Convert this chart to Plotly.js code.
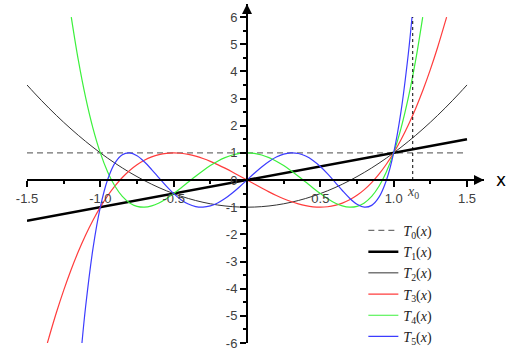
<!DOCTYPE html>
<html>
<head>
<meta charset="utf-8">
<script src="https://cdn.plot.ly/plotly-3.0.1.min.js"></script>
<style>html,body{margin:0;padding:0;background:#fff;}#chart{width:521px;height:362px;}</style>
</head>
<body>
<div id="chart"></div>
<script>
// Chebyshev polynomials T0..T5
const t0X = [-1.5, 1.5];
const t0Y = [1, 1];
const t1X = [-1.5, 1.5];
const t1Y = [-1.5, 1.5];
const t2X = [-1.5,-1.45,-1.4,-1.35,-1.3,-1.25,-1.2,-1.15,-1.1,-1.05,-1,-0.95,-0.9,-0.85,-0.8,-0.75,-0.7,-0.65,-0.6,-0.55,-0.5,-0.45,-0.4,-0.35,-0.3,-0.25,-0.2,-0.15,-0.1,-0.05,0,0.05,0.1,0.15,0.2,0.25,0.3,0.35,0.4,0.45,0.5,0.55,0.6,0.65,0.7,0.75,0.8,0.85,0.9,0.95,1,1.05,1.1,1.15,1.2,1.25,1.3,1.35,1.4,1.45,1.5];
const t2Y = [3.5,3.205,2.92,2.645,2.38,2.125,1.88,1.645,1.42,1.205,1,0.805,0.62,0.445,0.28,0.125,-0.02,-0.155,-0.28,-0.395,-0.5,-0.595,-0.68,-0.755,-0.82,-0.875,-0.92,-0.955,-0.98,-0.995,-1,-0.995,-0.98,-0.955,-0.92,-0.875,-0.82,-0.755,-0.68,-0.595,-0.5,-0.395,-0.28,-0.155,-0.02,0.125,0.28,0.445,0.62,0.805,1,1.205,1.42,1.645,1.88,2.125,2.38,2.645,2.92,3.205,3.5];
const t3X = [-1.361,-1.35,-1.3,-1.25,-1.2,-1.15,-1.1,-1.05,-1,-0.95,-0.9,-0.85,-0.8,-0.75,-0.7,-0.65,-0.6,-0.55,-0.5,-0.45,-0.4,-0.35,-0.3,-0.25,-0.2,-0.15,-0.1,-0.05,0,0.05,0.1,0.15,0.2,0.25,0.3,0.35,0.4,0.45,0.5,0.55,0.6,0.65,0.7,0.75,0.8,0.85,0.9,0.95,1,1.05,1.1,1.15,1.2,1.25,1.3,1.35,1.361];
const t3Y = [-6,-5.7915,-4.888,-4.0625,-3.312,-2.6335,-2.024,-1.4805,-1,-0.5795,-0.216,0.0935,0.352,0.5625,0.728,0.8515,0.936,0.9845,1,0.9855,0.944,0.8785,0.792,0.6875,0.568,0.4365,0.296,0.1495,0,-0.1495,-0.296,-0.4365,-0.568,-0.6875,-0.792,-0.8785,-0.944,-0.9855,-1,-0.9845,-0.936,-0.8515,-0.728,-0.5625,-0.352,-0.0935,0.216,0.5795,1,1.4805,2.024,2.6335,3.312,4.0625,4.888,5.7915,6];
const t4X = [-1.1981,-1.15,-1.1,-1.05,-1,-0.95,-0.9,-0.85,-0.8,-0.75,-0.7,-0.65,-0.6,-0.55,-0.5,-0.45,-0.4,-0.35,-0.3,-0.25,-0.2,-0.15,-0.1,-0.05,0,0.05,0.1,0.15,0.2,0.25,0.3,0.35,0.4,0.45,0.5,0.55,0.6,0.65,0.7,0.75,0.8,0.85,0.9,0.95,1,1.05,1.1,1.15,1.1981];
const t4Y = [6,4.41205,3.0328,1.90405,1,0.29605,-0.2312,-0.60395,-0.8432,-0.96875,-0.9992,-0.95195,-0.8432,-0.68795,-0.5,-0.29195,-0.0752,0.14005,0.3448,0.53125,0.6928,0.82405,0.9208,0.98005,1,0.98005,0.9208,0.82405,0.6928,0.53125,0.3448,0.14005,-0.0752,-0.29195,-0.5,-0.68795,-0.8432,-0.95195,-0.9992,-0.96875,-0.8432,-0.60395,-0.2312,0.29605,1,1.90405,3.0328,4.41205,6];
const t5X = [-1.1253,-1.1,-1.05,-1,-0.95,-0.9,-0.85,-0.8,-0.75,-0.7,-0.65,-0.6,-0.55,-0.5,-0.45,-0.4,-0.35,-0.3,-0.25,-0.2,-0.15,-0.1,-0.05,0,0.05,0.1,0.15,0.2,0.25,0.3,0.35,0.4,0.45,0.5,0.55,0.6,0.65,0.7,0.75,0.8,0.85,0.9,0.95,1,1.05,1.1,1.1253];
const t5Y = [-6,-4.64816,-2.518,-1,0.017005,0.63216,0.933215,0.99712,0.890625,0.67088,0.386035,0.07584,-0.227755,-0.5,-0.722745,-0.88384,-0.976535,-0.99888,-0.953125,-0.84512,-0.683715,-0.48016,-0.2475,0,0.2475,0.48016,0.683715,0.84512,0.953125,0.99888,0.976535,0.88384,0.722745,0.5,0.227755,-0.07584,-0.386035,-0.67088,-0.890625,-0.99712,-0.933215,-0.63216,-0.017005,1,2.518,4.64816,6];
const x0 = 1.13;
const x0Top = 6;
const seriesNames = ['<i>T</i><sub>0</sub>(<i>x</i>)','<i>T</i><sub>1</sub>(<i>x</i>)','<i>T</i><sub>2</sub>(<i>x</i>)','<i>T</i><sub>3</sub>(<i>x</i>)','<i>T</i><sub>4</sub>(<i>x</i>)','<i>T</i><sub>5</sub>(<i>x</i>)'];
const xTickVals = [-1.5,-1,-0.5,0.5,1,1.5];
const xTickText = ['-1.5','-1.0','-0.5','0.5','1.0','1.5'];
const xMinorVals = [-1.25,-0.75,-0.25,0.25,0.75,1.25];
const yTickVals = [-6,-5,-4,-3,-2,-1,0,1,2,3,4,5,6];
const yTickText = ['-6','-5','-4','-3','-2','-1','0','1','2','3','4','5','6'];
const yMinorVals = [-5.5,-4.5,-3.5,-2.5,-1.5,-0.5,0.5,1.5,2.5,3.5,4.5,5.5];

const xr = [-1.5, 1.616];
const yr = [-6, 6.48];
const tickFont = {family: 'Liberation Sans, Arial, sans-serif', size: 13, color: '#404040'};

const traces = [
  {x: t0X, y: t0Y, name: seriesNames[0], mode: 'lines', line: {color: '#707070', width: 1.2, dash: '6px,4px'}},
  {x: t1X, y: t1Y, name: seriesNames[1], mode: 'lines', line: {color: '#000000', width: 2.5}},
  {x: t2X, y: t2Y, name: seriesNames[2], mode: 'lines', line: {color: '#333333', width: 1, shape: 'spline'}},
  {x: t3X, y: t3Y, name: seriesNames[3], mode: 'lines', line: {color: '#ff3c3c', width: 1.2, shape: 'spline'}},
  {x: t4X, y: t4Y, name: seriesNames[4], mode: 'lines', line: {color: '#3cf03c', width: 1.2, shape: 'spline'}},
  {x: t5X, y: t5Y, name: seriesNames[5], mode: 'lines', line: {color: '#3c3cff', width: 1.2, shape: 'spline'}},
  {x: [x0, x0], y: [0, x0Top], mode: 'lines', showlegend: false, line: {color: '#000000', width: 1, dash: '3px,3px'}}
];

const layout = {
  width: 521, height: 362,
  margin: {l: 27, r: 37, t: 4, b: 19, pad: 0, autoexpand: false},
  paper_bgcolor: '#ffffff', plot_bgcolor: '#ffffff',
  showlegend: true,
  legend: {x: 0.736, y: 0.378, xanchor: 'left', yanchor: 'top', bgcolor: 'rgba(0,0,0,0)', tracegroupgap: 0,
           font: {family: 'Liberation Serif, Times New Roman, serif', size: 14, color: '#222'}},
  xaxis: {
    range: xr, anchor: 'free', position: (0 - yr[0]) / (yr[1] - yr[0]),
    showgrid: false, zeroline: false, showline: true, linecolor: '#000', linewidth: 2,
    tickmode: 'array', tickvals: xTickVals, ticktext: xTickText,
    ticks: 'outside', ticklen: 6, tickwidth: 2, tickcolor: '#000',
    tickfont: tickFont,
    minor: {tickmode: 'array', tickvals: xMinorVals, ticks: 'outside', ticklen: 3, tickwidth: 2, tickcolor: '#000', showgrid: false}
  },
  yaxis: {
    range: yr, anchor: 'free', position: (0 - xr[0]) / (xr[1] - xr[0]),
    showgrid: false, zeroline: false, showline: true, linecolor: '#000', linewidth: 2,
    tickmode: 'array', tickvals: yTickVals, ticktext: yTickText,
    ticks: 'outside', ticklen: 6, tickwidth: 2, tickcolor: '#000',
    tickfont: tickFont,
    minor: {tickmode: 'array', tickvals: yMinorVals, ticks: 'outside', ticklen: 3, tickwidth: 2, tickcolor: '#000', showgrid: false}
  },
  annotations: [
    {x: 0, y: yr[1], xref: 'x', yref: 'y', text: '', showarrow: true, arrowhead: 2, arrowsize: 1, arrowwidth: 2, arrowcolor: '#000', ax: 0, ay: 16},
    {x: xr[1], y: 0, xref: 'x', yref: 'y', text: '', showarrow: true, arrowhead: 2, arrowsize: 1, arrowwidth: 2, arrowcolor: '#000', ax: -16, ay: 0},
    {x: 1.022, y: (0 - yr[0]) / (yr[1] - yr[0]), xref: 'paper', yref: 'paper', text: 'x', showarrow: false, xanchor: 'left', yanchor: 'middle',
     font: {family: 'DejaVu Sans, sans-serif', size: 17, color: '#000'}},
    {x: x0, y: 0, xref: 'x', yref: 'y', text: '<i>x</i><sub>0</sub>', showarrow: false, xanchor: 'center', yanchor: 'top', yshift: -2,
     font: {family: 'Liberation Serif, serif', size: 14, color: '#404040'}}
  ]
};

Plotly.newPlot('chart', traces, layout, {displayModeBar: false, staticPlot: true});
</script>
</body>
</html>
